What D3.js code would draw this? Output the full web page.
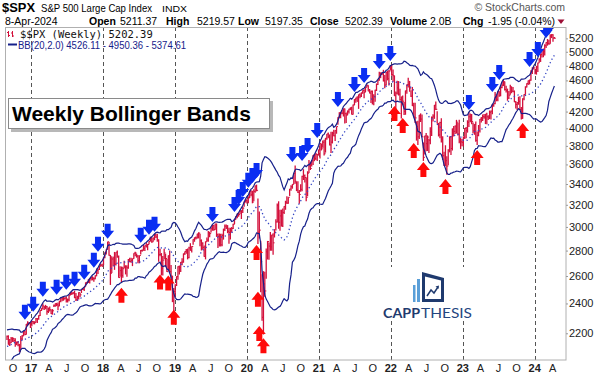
<!DOCTYPE html>
<html lang="en">
<head>
<meta charset="utf-8">
<title>$SPX Weekly Bollinger Bands</title>
<script src="https://cdn.jsdelivr.net/npm/d3@7"></script>
<style>
  body { margin: 0; background: #fff; }
  svg { display: block; font-family: "Liberation Sans", Arial, sans-serif; }
  .axis path { display: none; }
  .axis line { stroke: #999; }
  .axis text { font-family: "Liberation Sans", Arial, sans-serif; font-size: 11px; fill: #222; }
</style>
</head>
<body>
<script>
// weekly $SPX bars [high, low, close], one entry per week, consecutive weeks
// first week starts Monday 18-Apr-2016 (kept early so the 20-week bands exist at the left edge)
var firstWeek = "2016-04-18";
var w2016 = [[2111,2084,2092],[2099,2053,2065],[2084,2039,2057],[2084,2044,2047],[2067,2025,2052],[2100,2049,2099],[2103,2086,2099],[2120,2089,2096],[2097,2050,2071],[2113,2032,2037],[2103,1992,2103],[2131,2075,2130],[2170,2132,2162],[2176,2154,2175],[2178,2157,2174],[2183,2148,2183],[2188,2175,2184],[2187,2173,2184],[2193,2160,2169],[2185,2157,2180],[2187,2128,2128],[2163,2120,2139],[2176,2139,2165],[2175,2145,2168],[2170,2144,2154],[2169,2115,2133],[2148,2125,2141],[2151,2119,2126],[2133,2084,2085],[2183,2097,2164],[2189,2156,2182],[2214,2183,2213],[2214,2187,2192],[2260,2192,2260],[2278,2248,2258],[2274,2258,2264],[2273,2234,2239]];
var w2017 = [[2282,2245,2277],[2279,2258,2275],[2277,2258,2271],[2301,2270,2295],[2299,2267,2297],[2319,2288,2316],[2351,2313,2351],[2367,2348,2367],[2401,2358,2383],[2383,2355,2373],[2390,2360,2378],[2382,2322,2344],[2371,2334,2363],[2378,2344,2356],[2358,2328,2329],[2361,2323,2349],[2392,2375,2384],[2400,2377,2399],[2404,2381,2391],[2406,2353,2382],[2418,2381,2416],[2441,2408,2439],[2446,2416,2432],[2448,2419,2433],[2443,2428,2438],[2450,2406,2423],[2434,2407,2425],[2463,2416,2459],[2478,2458,2473],[2484,2459,2472],[2480,2466,2477],[2491,2437,2441],[2475,2418,2426],[2454,2417,2443],[2480,2428,2477],[2475,2446,2461],[2500,2474,2500],[2508,2496,2502],[2520,2489,2519],[2552,2521,2549],[2557,2542,2553],[2575,2548,2575],[2582,2544,2581],[2589,2567,2588],[2598,2567,2582],[2591,2557,2579],[2605,2576,2602],[2658,2598,2642],[2652,2615,2652],[2681,2646,2676],[2695,2673,2683],[2694,2673,2674]];
var w2018 = [[2744,2683,2743],[2787,2738,2786],[2810,2769,2810],[2873,2808,2873],[2870,2759,2762],[2764,2533,2620],[2754,2622,2732],[2747,2675,2747],[2789,2647,2691],[2787,2681,2787],[2801,2742,2752],[2761,2586,2588],[2675,2594,2641],[2673,2553,2604],[2672,2586,2656],[2718,2660,2670],[2683,2612,2670],[2682,2594,2663],[2733,2655,2728],[2742,2707,2713],[2742,2702,2721],[2736,2676,2735],[2779,2735,2779],[2791,2755,2780],[2775,2743,2755],[2764,2699,2718],[2760,2698,2760],[2805,2769,2801],[2808,2790,2802],[2849,2800,2819],[2841,2796,2840],[2863,2825,2833],[2855,2803,2850],[2877,2853,2875],[2916,2877,2902],[2916,2864,2872],[2907,2873,2905],[2941,2886,2930],[2940,2904,2914],[2940,2874,2886],[2894,2710,2767],[2816,2754,2768],[2780,2604,2659],[2756,2604,2723],[2815,2731,2781],[2775,2671,2736],[2733,2631,2633],[2760,2649,2760],[2800,2621,2633],[2685,2584,2600],[2601,2409,2417],[2510,2347,2486]];
var w2019 = [[2539,2444,2532],[2598,2525,2596],[2675,2571,2671],[2681,2612,2665],[2708,2631,2707],[2738,2682,2708],[2776,2703,2776],[2793,2765,2793],[2814,2775,2804],[2817,2729,2743],[2831,2739,2822],[2861,2800,2801],[2836,2785,2834],[2894,2849,2893],[2910,2873,2907],[2917,2892,2905],[2940,2901,2940],[2954,2901,2946],[2940,2836,2881],[2893,2801,2860],[2868,2806,2826],[2841,2751,2752],[2876,2729,2873],[2910,2874,2887],[2964,2873,2950],[2959,2912,2942],[2996,2952,2990],[3018,2967,3014],[3018,2966,2977],[3028,2975,3026],[3029,2914,2932],[2944,2822,2919],[2943,2834,2889],[2940,2834,2847],[2941,2836,2926],[2985,2891,2979],[3021,2965,3007],[3022,2983,2992],[3016,2946,2962],[2993,2856,2952],[2993,2892,2970],[3000,2952,2986],[3027,2982,3023],[3067,3024,3067],[3098,3066,3093],[3121,3078,3120],[3128,3091,3110],[3154,3115,3141],[3150,3070,3146],[3183,3124,3169],[3231,3183,3221],[3248,3226,3240]];
var w2020 = [[3258,3212,3235],[3282,3214,3265],[3330,3264,3330],[3338,3280,3295],[3334,3214,3226],[3348,3234,3328],[3385,3315,3380],[3394,3328,3338],[3260,2855,2954],[3137,2901,2972],[2882,2479,2711],[2614,2281,2305],[2637,2192,2541],[2632,2448,2489],[2818,2579,2790],[2880,2728,2875],[2866,2727,2837],[2955,2798,2831],[2933,2798,2930],[2945,2767,2864],[2981,2909,2955],[3068,2969,3044],[3212,3039,3194],[3233,2984,3041],[3155,2966,3098],[3155,3004,3009],[3165,2999,3130],[3186,3115,3185],[3238,3154,3225],[3280,3207,3216],[3272,3209,3271],[3352,3284,3351],[3387,3335,3373],[3399,3354,3397],[3509,3398,3508],[3588,3402,3427],[3425,3330,3341],[3428,3313,3319],[3342,3210,3298],[3397,3323,3348],[3482,3328,3477],[3550,3440,3484],[3497,3415,3465],[3465,3233,3270],[3529,3280,3509],[3646,3511,3585],[3628,3543,3558],[3645,3578,3638],[3699,3594,3699],[3712,3634,3663],[3726,3648,3709],[3712,3636,3703],[3760,3695,3756]];
var w2021 = [[3826,3663,3825],[3823,3750,3768],[3860,3779,3841],[3870,3694,3714],[3888,3726,3887],[3935,3870,3935],[3951,3885,3907],[3929,3805,3811],[3960,3723,3842],[3960,3827,3943],[3983,3908,3913],[3978,3854,3975],[4020,3937,4020],[4130,4041,4129],[4191,4120,4185],[4195,4119,4180],[4218,4167,4181],[4238,4140,4233],[4237,4057,4174],[4188,4062,4156],[4214,4156,4204],[4234,4176,4230],[4249,4217,4247],[4261,4165,4166],[4287,4165,4281],[4355,4279,4352],[4372,4309,4370],[4393,4324,4327],[4415,4233,4412],[4430,4368,4395],[4441,4382,4437],[4468,4424,4468],[4482,4367,4442],[4511,4447,4509],[4546,4510,4535],[4536,4457,4459],[4486,4428,4433],[4465,4306,4455],[4466,4288,4357],[4419,4279,4391],[4475,4323,4471],[4559,4460,4545],[4608,4537,4605],[4719,4595,4698],[4708,4630,4683],[4714,4672,4698],[4744,4585,4595],[4673,4495,4538],[4713,4532,4712],[4731,4600,4621],[4740,4531,4726],[4808,4734,4766]];
var w2022 = [[4819,4662,4677],[4749,4582,4663],[4665,4396,4398],[4453,4223,4432],[4596,4415,4501],[4591,4401,4419],[4490,4335,4349],[4386,4115,4385],[4402,4279,4329],[4319,4157,4204],[4465,4161,4463],[4546,4424,4543],[4637,4507,4546],[4593,4450,4488],[4471,4381,4393],[4513,4268,4272],[4308,4132,4132],[4308,4063,4123],[4082,3859,4024],[4090,3811,3901],[4159,3876,4158],[4178,4074,4109],[4165,3900,3901],[3838,3637,3675],[3913,3705,3912],[3946,3741,3825],[3918,3743,3899],[3879,3722,3863],[4013,3819,3962],[4140,3911,4130],[4167,4080,4145],[4281,4112,4280],[4325,4218,4228],[4204,4057,4058],[4062,3906,3924],[4077,3887,4067],[4119,3837,3873],[3907,3647,3693],[3736,3584,3586],[3807,3584,3640],[3686,3492,3583],[3762,3591,3753],[3906,3729,3901],[3911,3699,3771],[3999,3749,3993],[4028,3906,3965],[4034,3933,4026],[4100,3939,4072],[4066,3918,3934],[4101,3828,3852],[3889,3765,3845],[3878,3796,3840]];
var w2023 = [[3907,3794,3895],[4004,3877,3999],[4015,3885,3973],[4095,3950,4071],[4195,4015,4136],[4176,4070,4090],[4170,4048,4079],[4067,3944,3970],[4049,3925,4046],[4079,3847,3862],[3964,3809,3917],[4039,3908,3971],[4110,3951,4109],[4133,4069,4105],[4164,4086,4138],[4170,4114,4134],[4170,4049,4169],[4185,4048,4136],[4154,4099,4124],[4213,4109,4192],[4213,4103,4205],[4291,4166,4282],[4299,4261,4299],[4448,4292,4410],[4400,4328,4348],[4458,4328,4450],[4456,4385,4399],[4528,4392,4505],[4578,4497,4536],[4607,4524,4582],[4584,4467,4478],[4528,4441,4464],[4491,4335,4370],[4459,4357,4406],[4541,4411,4516],[4516,4431,4457],[4511,4449,4450],[4467,4317,4320],[4333,4238,4288],[4318,4216,4309],[4386,4284,4328],[4393,4223,4224],[4256,4104,4117],[4366,4113,4358],[4418,4342,4415],[4521,4412,4514],[4561,4505,4559],[4598,4537,4595],[4610,4546,4604],[4739,4594,4719],[4779,4686,4755],[4793,4751,4770]];
var w2024 = [[4755,4682,4697],[4799,4678,4784],[4842,4714,4840],[4907,4842,4891],[4975,4854,4959],[5030,4919,5027],[5048,4920,5006],[5111,4946,5089],[5140,5056,5137],[5190,5090,5124],[5179,5104,5117],[5261,5118,5234],[5265,5204,5254],[5264,5147,5204],[5220,5197,5202.39]];

// hand-drawn band-touch markers [week, price at arrow tip]
var arrowsDown = [["2016-11-28",2288],["2017-01-09",2343],["2017-02-27",2448],["2017-05-08",2462],["2017-06-26",2498],["2017-08-07",2520],["2017-09-25",2572],["2017-11-13",2664],["2017-12-04",2791],["2018-01-22",2899],["2018-07-09",2865],["2018-08-20",2933],["2018-09-17",2959],["2019-07-08",3043],["2019-10-28",3133],["2019-11-18",3198],["2019-12-09",3274],["2020-01-06",3362],["2020-01-27",3411],["2020-02-17",3461],["2020-08-17",3626],["2020-10-05",3636],["2020-11-02",3722],["2020-12-21",3888],["2021-04-05",4256],["2021-06-28",4446],["2021-08-16",4565],["2021-11-01",4755],["2021-12-27",4867],["2023-01-30",4219],["2023-05-29",4446],["2023-07-03",4605],["2023-12-04",4783],["2024-01-15",4925],["2024-02-26",5205],["2024-03-11",5281]];
var arrowsUp = [["2018-04-02",2512],["2018-10-15",2611],["2018-11-26",2603],["2018-12-24",2357],["2020-02-17",2847],["2020-02-24",2483],["2020-03-02",2247],["2020-03-23",2169],["2022-01-17",4269],["2022-02-28",4122],["2022-04-25",3833],["2022-06-13",3626],["2022-10-03",3451],["2023-03-13",3756],["2023-10-30",4062]];

var yTicks = [2200,2400,2600,2800,3000,3200,3400,3600,3800,4000,4200,4400,4600,4800,5000,5200];
var yDomain = [2035, 5375];
var xDomain = ["2016-08-26", "2024-06-08"];
var quarterLabels = ["", "A", "J", "O"];
var bbPeriod = 20, bbWidth = 2;

// [text, x, font size, weight, fitted width]
var headerTop = [["$SPX", 2, 13.5, "bold", 33], ["S&P 500 Large Cap Index", 41, 10.5, "normal", 111], ["INDX", 162, 9.5, "normal", 25]];
var headerQuote = [["8-Apr-2024", 5, "normal"], ["Open", 89, "bold"], ["5211.37", 120, "normal"], ["High", 166, "bold"], ["5219.57", 197, "normal"],
  ["Low", 238, "bold"], ["5197.35", 265, "normal"], ["Close", 310, "bold"], ["5202.39", 345, "normal"], ["Volume", 390, "bold"], ["2.0B", 430, "normal"],
  ["Chg", 463, "bold"], ["-1.95 (-0.04%)", 488, "normal"]];
var priceLegend = "$$PX (Weekly) 5202.39";
var bbLegend = "BB(20,2.0) 4526.11 - 4950.36 - 5374.61";
var title = "Weekly Bollinger Bands";

var colors = {bar: "#d3103b", band: "#16208a", mid: "#3546c4", down: "#0a2ef2", up: "#ff0a0a", grid: "#555", frame: "#b0b0b0"};

var margin = {top: 27, right: 29, bottom: 13, left: 6},
    W = 595, H = 373,
    w = W - margin.left - margin.right,
    h = H - margin.top - margin.bottom;

var parseDay = d3.timeParse("%Y-%m-%d");
var start = parseDay(firstWeek);

var bars = [];
[w2016, w2017, w2018, w2019, w2020, w2021, w2022, w2023, w2024].forEach(function(yr) {
  yr.forEach(function(b) {
    bars.push({date: d3.timeDay.offset(start, 7 * bars.length), high: b[0], low: b[1], close: b[2]});
  });
});

// Bollinger bands, 20 weeks, 2 standard deviations
bars.forEach(function(d, i) {
  if (i < bbPeriod - 1) return;
  var win = bars.slice(i - bbPeriod + 1, i + 1).map(function(b) { return b.close; });
  var m = d3.mean(win);
  var sd = Math.sqrt(d3.mean(win, function(v) { return (v - m) * (v - m); }));
  d.mid = m; d.up = m + bbWidth * sd; d.dn = m - bbWidth * sd;
});

var xScale = d3.scaleTime().domain(xDomain.map(parseDay)).range([0, w]);
var yScale = d3.scaleLog().domain(yDomain).range([h, 0]);
function bx(date) { return xScale(d3.timeDay.offset(date, 2)); }

var visible = bars.filter(function(d) { return d.date >= xScale.domain()[0]; });

var svg = d3.select("body").append("svg").attr("width", W).attr("height", H);

// ---------- header ----------
headerTop.forEach(function(t) {
  svg.append("text").attr("x", t[1]).attr("y", 12).style("font-size", t[2] + "px")
    .style("font-weight", t[3]).attr("fill", "#000")
    .attr("textLength", t[4]).attr("lengthAdjust", "spacingAndGlyphs").text(t[0]);
});
svg.append("text").attr("x", 565).attr("y", 11).attr("text-anchor", "end")
  .style("font-size", "10.5px").attr("fill", "#555").text("\u00A9 StockCharts.com");
headerQuote.forEach(function(t) {
  svg.append("text").attr("x", t[1]).attr("y", 25).style("font-size", "10.5px")
    .style("font-weight", t[2]).attr("fill", "#000").text(t[0]);
});
svg.append("path").attr("d", "M557.5,19.5 L564.5,19.5 L561,24 Z").attr("fill", "#9c0e35");

var g = svg.append("g").attr("transform", "translate(" + margin.left + "," + margin.top + ")");

g.append("clipPath").attr("id", "plot").append("rect").attr("width", w).attr("height", h);

// year gridlines
g.selectAll(".grid").data(d3.timeYear.range(new Date(2017, 0, 1), new Date(2024, 1, 1)))
  .enter().append("line").attr("class", "grid")
  .attr("x1", function(d) { return Math.round(xScale(d)) + 0.5; })
  .attr("x2", function(d) { return Math.round(xScale(d)) + 0.5; })
  .attr("y1", 0).attr("y2", h)
  .attr("stroke", colors.grid).attr("stroke-dasharray", "4,3");

var plot = g.append("g").attr("clip-path", "url(#plot)");

// price bars
plot.selectAll(".bar").data(visible).enter().append("line").attr("class", "bar")
  .attr("x1", function(d) { return bx(d.date); }).attr("x2", function(d) { return bx(d.date); })
  .attr("y1", function(d) { return yScale(d.high); }).attr("y2", function(d) { return yScale(d.low); })
  .attr("stroke", colors.bar).attr("stroke-width", 1.3);
plot.selectAll(".tick-close").data(visible).enter().append("line").attr("class", "tick-close")
  .attr("x1", function(d) { return bx(d.date); }).attr("x2", function(d) { return bx(d.date) + 1.5; })
  .attr("y1", function(d) { return yScale(d.close); }).attr("y2", function(d) { return yScale(d.close); })
  .attr("stroke", colors.bar).attr("stroke-width", 1);

// bands
var bandData = bars.filter(function(d) { return d.mid !== undefined; });
function bandLine(key) {
  return d3.line().x(function(d) { return bx(d.date); }).y(function(d) { return yScale(d[key]); });
}
plot.append("path").attr("d", bandLine("up")(bandData)).attr("fill", "none").attr("stroke", colors.band).attr("stroke-width", 1.2);
plot.append("path").attr("d", bandLine("dn")(bandData)).attr("fill", "none").attr("stroke", colors.band).attr("stroke-width", 1.2);
plot.append("path").attr("d", bandLine("mid")(bandData)).attr("fill", "none").attr("stroke", colors.mid)
  .attr("stroke-width", 1.3).attr("stroke-dasharray", "1.3,2.6");

// arrows
var arrowDown = "M-3,-15 L3,-15 L3,-8 L6.5,-8 L0,0 L-6.5,-8 L-3,-8 Z";
var arrowUp = "M-3,15 L3,15 L3,8 L6.5,8 L0,0 L-6.5,8 L-3,8 Z";
plot.selectAll(".adown").data(arrowsDown).enter().append("path").attr("class", "adown")
  .attr("transform", function(d) { return "translate(" + bx(parseDay(d[0])) + "," + yScale(d[1]) + ")"; })
  .attr("d", arrowDown).attr("fill", colors.down);
plot.selectAll(".aup").data(arrowsUp).enter().append("path").attr("class", "aup")
  .attr("transform", function(d) { return "translate(" + bx(parseDay(d[0])) + "," + yScale(d[1]) + ")"; })
  .attr("d", arrowUp).attr("fill", colors.up);

// legend lines inside the plot
var lg = svg.append("g");
lg.append("path").attr("d", "M8.5,31 V37 M7,32.5 H8.5 M8.5,35.5 H10 M12.5,31 V37 M11,33 H12.5 M12.5,36 H14")
  .attr("stroke", colors.bar).attr("stroke-width", 1).attr("fill", "none");
lg.append("text").attr("x", 20).attr("y", 38).style("font-family", "'DejaVu Sans Mono', monospace")
  .style("font-size", "10.5px").attr("fill", "#111").text(priceLegend);
lg.append("line").attr("x1", 8).attr("x2", 17).attr("y1", 44.5).attr("y2", 44.5).attr("stroke", colors.band).attr("stroke-width", 2);
lg.append("text").attr("x", 18).attr("y", 49).style("font-size", "10px").attr("fill", colors.band)
  .attr("textLength", 168).attr("lengthAdjust", "spacingAndGlyphs").text(bbLegend);

// title box
svg.append("rect").attr("x", 11).attr("y", 101).attr("width", 262).attr("height", 31).attr("fill", "#b8b8b8");
svg.append("rect").attr("x", 8.5).attr("y", 98.5).attr("width", 261).attr("height", 30).attr("fill", "#fff").attr("stroke", "#8a8a8a");
svg.append("text").attr("x", 12).attr("y", 121).style("font-size", "21px").style("font-weight", "bold").attr("fill", "#000").text(title);

// logo
var logo = svg.append("g").attr("transform", "translate(376,267)");
logo.append("rect").attr("width", 100).attr("height", 54).attr("fill", "#fff");
logo.append("rect").attr("x", 37).attr("y", 18).attr("width", 2.5).attr("height", 17).attr("fill", "#5a9fd8");
logo.append("rect").attr("x", 41).attr("y", 12).attr("width", 3).attr("height", 23).attr("fill", "#5a9fd8");
logo.append("path").attr("d", "M46,5 L68,11 L68,35 L46,35 Z").attr("fill", "#1f3a6e");
logo.append("path").attr("d", "M49,9.5 L65,13.5 L65,32 L49,32 Z").attr("fill", "#fff");
logo.append("path").attr("d", "M51,29 L55,23 L58,26 L62,20").attr("fill", "none").attr("stroke", "#1f3a6e").attr("stroke-width", 1.5);
logo.append("path").attr("d", "M59.5,19.5 L63,18.5 L62.5,22 Z").attr("fill", "#1f3a6e");
logo.append("text").attr("x", 7).attr("y", 51).style("font-family", "Lato, 'Open Sans', sans-serif").style("font-size", "14px")
  .style("font-weight", "bold").attr("fill", "#1f3a6e").attr("textLength", 37).attr("lengthAdjust", "spacingAndGlyphs").text("CAPP");
logo.append("text").attr("x", 45).attr("y", 51).style("font-family", "Lato, 'Open Sans', sans-serif").style("font-size", "14px")
  .attr("fill", "#24457f").attr("textLength", 51).attr("lengthAdjust", "spacingAndGlyphs").text("THESIS");

// frame
g.append("rect").attr("x", -0.5).attr("y", 0.5).attr("width", w + 0.5).attr("height", h - 0.5)
  .attr("fill", "none").attr("stroke", colors.frame);

// right price axis
g.append("g").attr("class", "axis").attr("transform", "translate(" + w + ",0)")
  .call(d3.axisRight(yScale).tickValues(yTicks).tickSize(2).tickPadding(1).tickFormat(d3.format("d")));

// bottom date labels
var quarters = d3.timeMonth.every(3).range(new Date(2016, 9, 1), new Date(2024, 4, 1));
g.selectAll(".xl").data(quarters).enter().append("text").attr("class", "xl")
  .attr("x", function(d) { return xScale(d); }).attr("y", h + 11.5)
  .attr("text-anchor", "middle").style("font-size", "11px")
  .style("font-weight", function(d) { return d.getMonth() === 0 ? "bold" : "normal"; })
  .attr("fill", "#222")
  .text(function(d) { return d.getMonth() === 0 ? d3.timeFormat("%y")(d) : quarterLabels[d.getMonth() / 3]; });
</script>
</body>
</html>
